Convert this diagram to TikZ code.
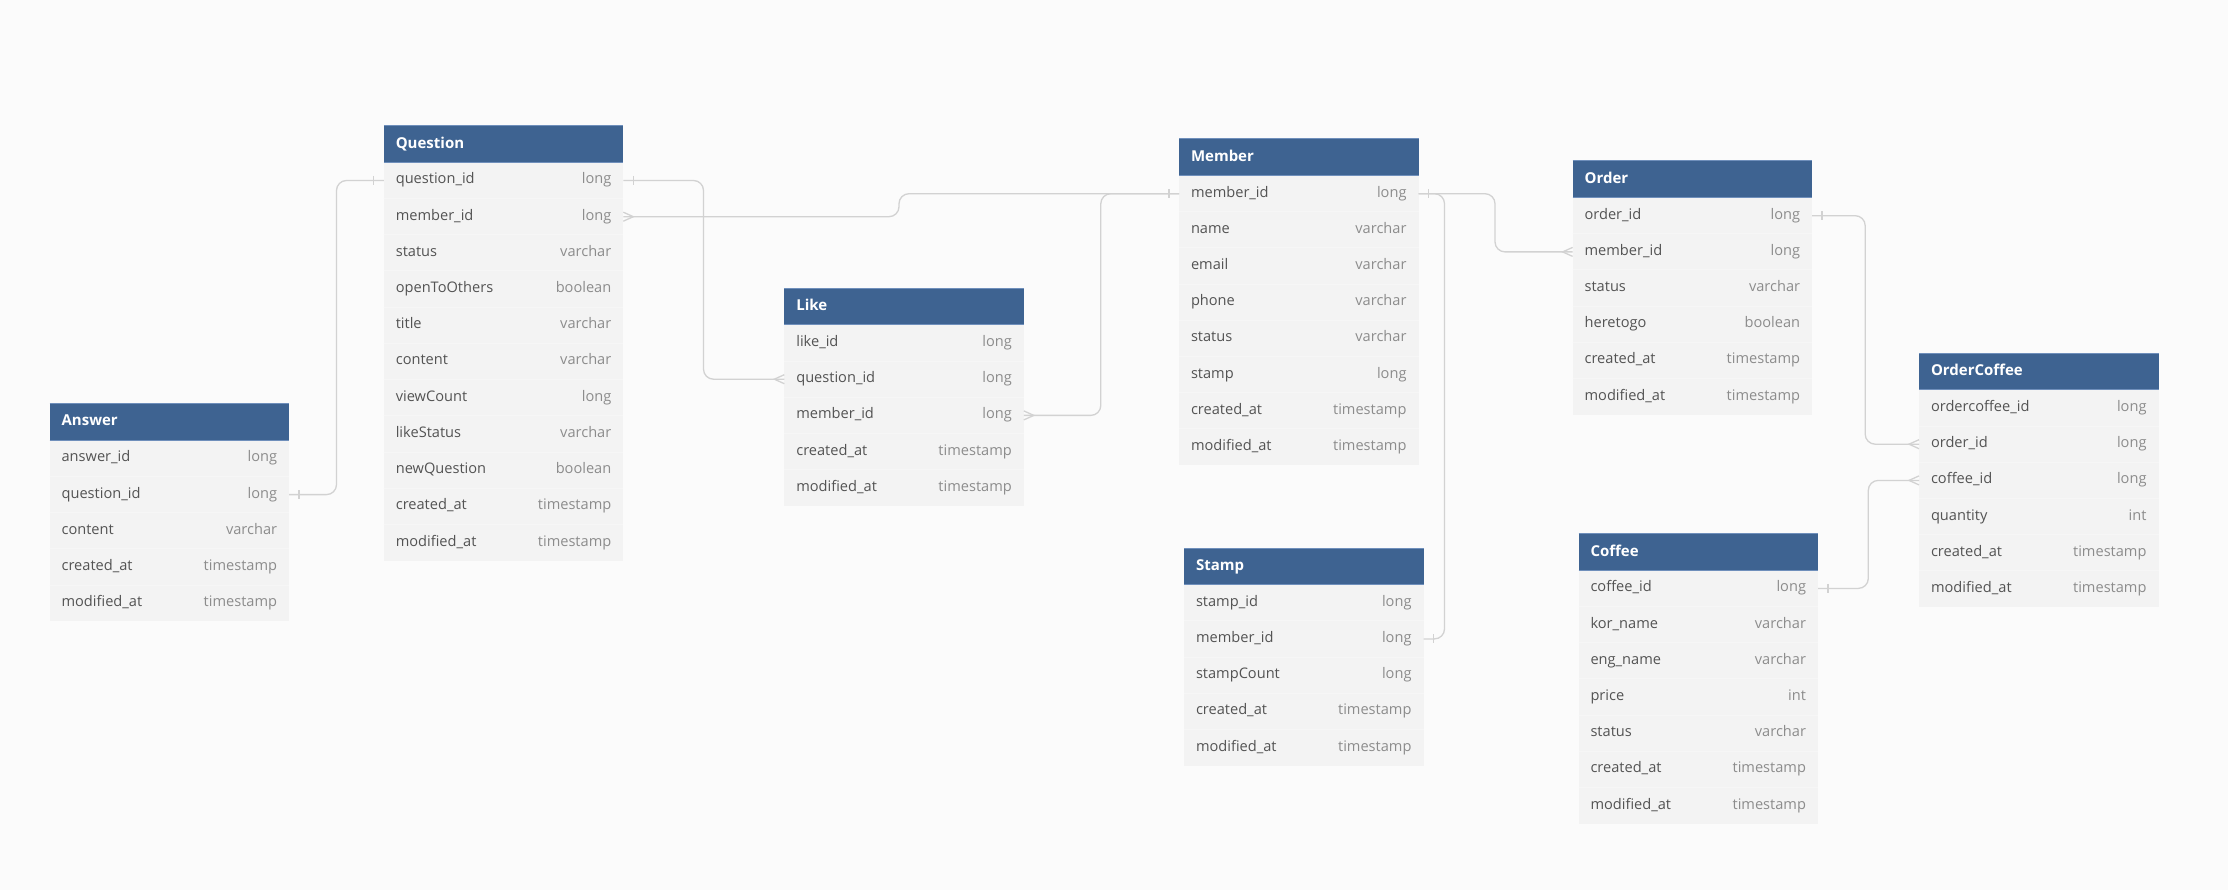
\documentclass[tikz,border=0pt]{standalone}
\usepackage{fontspec}
\setmainfont{Open Sans}
\usetikzlibrary{calc}
\definecolor{bgc}{HTML}{FBFBFB}
\definecolor{hdrc}{HTML}{3E6391}
\definecolor{hdrlinec}{HTML}{6F8FBB}
\definecolor{rowc}{HTML}{F3F3F3}
\definecolor{rowsepc}{HTML}{F6F6F6}
\definecolor{fieldc}{HTML}{535353}
\definecolor{typec}{HTML}{8C8C8C}
\definecolor{connc}{HTML}{D2D2D2}
\tikzset{
  tblhdr/.style={anchor=north west, fill=hdrc, minimum width=239.5pt, minimum height=36.6pt,
    inner xsep=12pt, inner ysep=0pt, outer sep=0pt, text width=215.5pt, align=left,
    text height=11pt, text depth=3pt, font=\bfseries\fontsize{15}{18}\selectfont, text=white},
  tblrow/.style={anchor=north west, fill=rowc, minimum width=239.5pt, minimum height=36.2pt,
    inner xsep=12pt, inner ysep=0pt, outer sep=0pt, text width=215.5pt, align=left,
    text height=10.5pt, text depth=3.5pt, font=\fontsize{14.6}{17}\selectfont},
  hdrline/.style={draw=hdrlinec, line width=1pt},
  rowsep/.style={draw=rowsepc, line width=1pt},
  conn/.style={draw=connc, line width=1.3pt, rounded corners=10pt},
  connsym/.style={draw=connc, line width=1.3pt},
}
\newcommand{\ertable}[4]{%
  \node[tblhdr] (#1-h) at (#2) {#3};
  \foreach \fld/\typ [count=\i] in {#4} {
    \node[tblrow] (#1-\i) at ($(#1-h.south west)+(0,{(\i-1)*36.2})$)
      {\textcolor{fieldc}{\fld}\hfill\textcolor{typec}{\typ}};
    \draw[rowsep] (#1-\i.north west) -- (#1-\i.north east);
  }
  \draw[hdrline] (#1-h.north west) -- (#1-h.north east);
  \draw[hdrline] (#1-h.south west) -- (#1-h.south east);
}
\newcommand{\tickW}[1]{\draw[connsym] ($(#1.west)+(-10,-4.5)$) -- ++(0,9);}
\newcommand{\tickE}[1]{\draw[connsym] ($(#1.east)+(10,-4.5)$) -- ++(0,9);}
\newcommand{\crowW}[1]{\draw[connsym] ($(#1.west)+(0,-4.5)$) -- ($(#1.west)+(-10,0)$) -- ($(#1.west)+(0,4.5)$);}
\newcommand{\crowE}[1]{\draw[connsym] ($(#1.east)+(0,-4.5)$) -- ($(#1.east)+(10,0)$) -- ($(#1.east)+(0,4.5)$);}
\begin{document}
\begin{tikzpicture}[x=1pt,y=-1pt]
\fill[bgc] (0,0) rectangle (2228,890);
\useasboundingbox (0,0) rectangle (2228,890);

\ertable{A}{49.6,403.7}{Answer}{answer\_id/long, question\_id/long, content/varchar, created\_at/timestamp, modified\_at/timestamp}
\ertable{Q}{383.8,125.8}{Question}{question\_id/long, member\_id/long, status/varchar, openToOthers/boolean, title/varchar, content/varchar, viewCount/long, likeStatus/varchar, newQuestion/boolean, created\_at/timestamp, modified\_at/timestamp}
\ertable{Lk}{784.3,288.3}{Like}{like\_id/long, question\_id/long, member\_id/long, created\_at/timestamp, modified\_at/timestamp}
\ertable{M}{1179,139}{Member}{member\_id/long, name/varchar, email/varchar, phone/varchar, status/varchar, stamp/long, created\_at/timestamp, modified\_at/timestamp}
\ertable{S}{1184,548}{Stamp}{stamp\_id/long, member\_id/long, stampCount/long, created\_at/timestamp, modified\_at/timestamp}
\ertable{O}{1572.6,161}{Order}{order\_id/long, member\_id/long, status/varchar, heretogo/boolean, created\_at/timestamp, modified\_at/timestamp}
\ertable{C}{1578.5,533.7}{Coffee}{coffee\_id/long, kor\_name/varchar, eng\_name/varchar, price/int, status/varchar, created\_at/timestamp, modified\_at/timestamp}
\ertable{OC}{1919,353.3}{OrderCoffee}{ordercoffee\_id/long, order\_id/long, coffee\_id/long, quantity/int, created\_at/timestamp, modified\_at/timestamp}

\coordinate (x0) at (336.5,0);
\coordinate (x3) at (703.5,0);
\coordinate (x1) at (899,0);
\coordinate (x2) at (1100.8,0);
\coordinate (x5) at (1444.5,0);
\coordinate (x4) at (1495,0);
\coordinate (x6) at (1865.2,0);
\coordinate (x7) at (1868.3,0);

% Answer.question_id - Question.question_id
\draw[conn] (A-2.east) -- (A-2.east -| x0) |- (Q-1.west);
\tickE{A-2} \tickW{Q-1}
% Question.question_id - Like.question_id
\draw[conn] (Q-1.east) -- (Q-1.east -| x3) |- (Lk-2.west);
\tickE{Q-1} \crowW{Lk-2}
% Question.member_id - Member.member_id
\draw[conn] (Q-2.east) -- (Q-2.east -| x1) -- (M-1.west -| x1) -- (M-1.west);
\crowE{Q-2} \tickW{M-1}
% Like.member_id - Member.member_id
\draw[conn] (Lk-3.east) -- (Lk-3.east -| x2) |- (M-1.west);
\crowE{Lk-3}
% Member.member_id - Order.member_id
\draw[conn] (M-1.east) -- (M-1.east -| x4) |- (O-2.west);
\tickE{M-1} \crowW{O-2}
% Member.member_id - Stamp.member_id
\draw[conn] (M-1.east) -- (M-1.east -| x5) |- (S-2.east);
\tickE{S-2}
% Order.order_id - OrderCoffee.order_id
\draw[conn] (O-1.east) -- (O-1.east -| x6) |- (OC-2.west);
\tickE{O-1} \crowW{OC-2}
% Coffee.coffee_id - OrderCoffee.coffee_id
\draw[conn] (C-1.east) -- (C-1.east -| x7) |- (OC-3.west);
\tickE{C-1} \crowW{OC-3}
\end{tikzpicture}
\end{document}
